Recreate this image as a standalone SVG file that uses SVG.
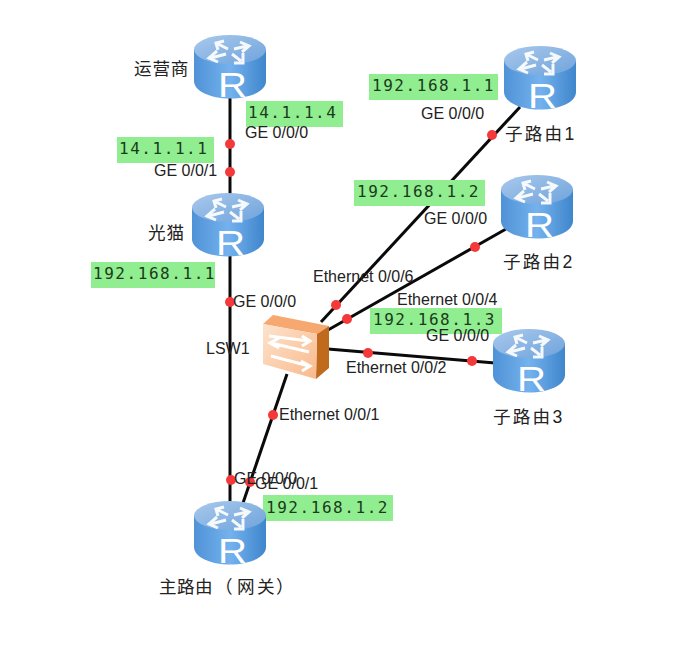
<svg xmlns="http://www.w3.org/2000/svg" width="696" height="672" viewBox="0 0 696 672">
<style>
.link{stroke:#0a0a0a;stroke-width:3;fill:none;stroke-linecap:butt}
.dot{fill:#f5383a}
.port{font-family:"Liberation Sans",Arial,sans-serif;font-size:16px;fill:#222}
.ip{font-family:"DejaVu Sans Mono",monospace;font-size:16px;letter-spacing:1.55px;fill:#1c3a1c}
.ipbg{fill:#90ee90}
.name{font-family:"Liberation Sans","Noto Sans CJK SC",sans-serif;font-size:17.6px;fill:#222;letter-spacing:.8px}
.sub{letter-spacing:2.2px}
.arrow{stroke:#fff;stroke-width:3;fill:none;opacity:.92}
</style>
<defs>
<linearGradient id="side" x1="0" x2="1" y1="0" y2="0"><stop offset="0" stop-color="#4f92d6"/><stop offset=".5" stop-color="#74b2ee"/><stop offset="1" stop-color="#3f86cc"/></linearGradient>
<linearGradient id="top" x1="0" x2="1" y1="0" y2="1"><stop offset="0" stop-color="#a9c9ec"/><stop offset="1" stop-color="#6fa3dc"/></linearGradient>
<linearGradient id="sw" x1="0" x2="1" y1="0" y2="1"><stop offset="0" stop-color="#fde3cd"/><stop offset="1" stop-color="#f9b98c"/></linearGradient>
<g id="router">
<path d="M0 15V46C0 56 16 63.500 36 63.500S72 56 72 46V15Z" fill="url(#side)"/>
<ellipse cx="36" cy="14.500" rx="36" ry="14.500" fill="url(#top)"/>
<g class="arrow">
<path d="M34 14L24 9M24 15L22 8L30 6"/>
<path d="M40 14L53 11M46 7L55 11L48 17"/>
<path d="M38 19L47 26M49 18L49 28L40 28"/>
<path d="M32 19L17 23M23 16L15 23L24 27"/>
</g>
<text transform="translate(38.500 62) scale(1.15 1)" text-anchor="middle" font-family="Liberation Sans,Arial,sans-serif" font-size="35" fill="#fff">R</text>
</g>
</defs>

<g id="connectors">
<line class="link" x1="230" y1="98" x2="230" y2="195"/>
<line class="link" x1="230" y1="256" x2="230" y2="503"/>
<line class="link" x1="321" y1="322" x2="520" y2="107"/>
<line class="link" x1="328" y1="330" x2="506" y2="229"/>
<line class="link" x1="328" y1="349" x2="495" y2="363"/>
<line class="link" x1="287" y1="374" x2="243" y2="503"/>
<g class="dot">
<circle cx="230" cy="144" r="5"/><circle cx="230" cy="172" r="5"/>
<circle cx="230" cy="302" r="5"/><circle cx="231" cy="480" r="5"/><circle cx="250" cy="482" r="5"/>
<circle cx="273" cy="415" r="5"/>
<circle cx="492" cy="135" r="5"/><circle cx="336" cy="305" r="5"/>
<circle cx="475" cy="247" r="5"/><circle cx="347" cy="319" r="5"/>
<circle cx="368" cy="353" r="5"/><circle cx="472" cy="361" r="5"/>
</g>
</g>

<g id="ip-labels">
<rect class="ipbg" x="246" y="101" width="97" height="26"/><text class="ip" x="248" y="118">14.1.1.4</text>
<rect class="ipbg" x="117" y="137" width="97" height="26"/><text class="ip" x="119" y="154">14.1.1.1</text>
<rect class="ipbg" x="91" y="262" width="124" height="26"/><text class="ip" x="93" y="279">192.168.1.1</text>
<rect class="ipbg" x="369" y="74" width="129" height="26"/><text class="ip" x="372" y="91">192.168.1.1</text>
<rect class="ipbg" x="354" y="180" width="131" height="26"/><text class="ip" x="357" y="197">192.168.1.2</text>
<rect class="ipbg" x="370" y="308" width="132" height="26"/><text class="ip" x="373" y="325">192.168.1.3</text>
<rect class="ipbg" x="263" y="495" width="130" height="26"/><text class="ip" x="266" y="513">192.168.1.2</text>
</g>

<g id="isp"><use href="#router" x="194" y="35"/><text class="name" x="134" y="75">运营商</text></g>
<g id="modem"><use href="#router" x="192" y="193"/><text class="name" x="148" y="239">光猫</text></g>
<g id="gateway"><use href="#router" x="194" y="501"/><text class="name" style="letter-spacing:0" x="159 177 195 215 237 257 276" y="593">主路由（网关）</text></g>
<g id="sub1"><use href="#router" x="504" y="46"/><text class="name sub" x="505" y="140">子路由1</text></g>
<g id="sub2"><use href="#router" x="501" y="175"/><text class="name sub" x="503" y="268">子路由2</text></g>
<g id="sub3"><use href="#router" x="493" y="329"/><text class="name sub" x="493" y="423">子路由3</text></g>
<g id="lsw1">
<path d="M263 324L273 315L329 326L317 334Z" fill="#f7a871"/>
<path d="M317 334L329 326V368L316 379Z" fill="#bf6a1d"/>
<path d="M263 324L317 334L316 379L263 364Z" fill="url(#sw)"/>
<path d="M269 336L309 341M302 336L310 341L302 346M309 352L271 343M279 338L270 343L279 348M271 356L309 366M301 361L310 366L302 371" stroke="#fff" stroke-width="3" fill="none"/>
<text class="port" x="206" y="354">LSW1</text>
</g>

<g id="port-labels" class="port">
<text x="245" y="138">GE 0/0/0</text>
<text x="154" y="176">GE 0/0/1</text>
<text x="233" y="307">GE 0/0/0</text>
<text x="234" y="484">GE 0/0/0</text>
<text x="255" y="489">GE 0/0/1</text>
<text x="279" y="420">Ethernet 0/0/1</text>
<text x="346" y="373">Ethernet 0/0/2</text>
<text x="397" y="305">Ethernet 0/0/4</text>
<text x="313" y="282">Ethernet 0/0/6</text>
<text x="421" y="119">GE 0/0/0</text>
<text x="424" y="224">GE 0/0/0</text>
<text x="426" y="341">GE 0/0/0</text>
</g>
</svg>
